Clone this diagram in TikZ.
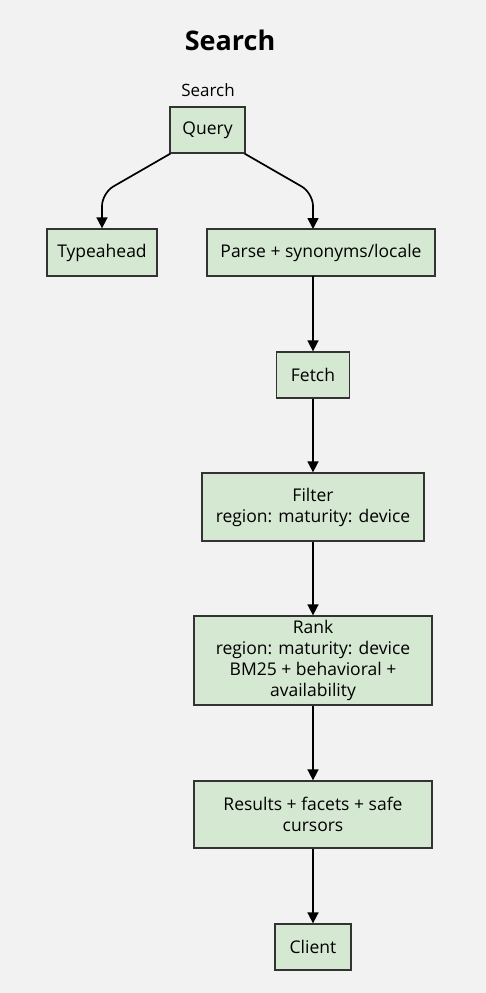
\documentclass[tikz,border=0pt]{standalone}
\usepackage{fontspec}
\setmainfont{Open Sans}
\usetikzlibrary{arrows.meta}
\definecolor{bg}{HTML}{F2F2F2}
\definecolor{boxfill}{HTML}{D5E8D2}
\definecolor{boxline}{HTML}{333333}
\begin{document}
\begin{tikzpicture}[x=1pt,y=-1pt,
  box/.style={draw=boxline, line width=1.3pt, fill=boxfill, align=center, inner sep=0pt, font=\fontsize{17.5}{21}\selectfont},
  conn/.style={draw=black, line width=1.7pt, -{Triangle[width=11pt,length=11pt]}}]
\fill[bg] (0,0) rectangle (486,993);
\useasboundingbox (0,0) rectangle (486,993);
\node[font=\bfseries\fontsize{27}{30}\selectfont] (title) at (230,40) {Search};
\node[font=\fontsize{17}{20}\selectfont] (lbl) at (208,90) {Search};
\node[box, minimum width=75pt, minimum height=46pt] (q) at (207.5,130) {Query};
\node[box, minimum width=110pt, minimum height=47pt] (ty) at (102,252.5) {Typeahead};
\node[box, minimum width=228pt, minimum height=47pt] (pa) at (321,252.5) {Parse + synonyms/locale};
\node[box, minimum width=73pt, minimum height=46pt] (fe) at (313,375) {Fetch};
\node[box, minimum width=222pt, minimum height=68pt] (fi) at (313,507) {Filter\\region: maturity: device};
\node[box, minimum width=238pt, minimum height=89pt] (ra) at (313,660.5) {Rank\\region: maturity: device\\BM25 + behavioral +\\availability};
\node[box, minimum width=238pt, minimum height=67pt] (re) at (313,814.5) {Results + facets + safe\\cursors};
\node[box, minimum width=76pt, minimum height=46pt] (cl) at (313,947) {Client};
\coordinate (pain) at (313,229);
\coordinate (paout) at (313,276);
\draw[conn, rounded corners=13pt] ([xshift=1pt]q.south west) -- (102,193) -- (ty.north);
\draw[conn, rounded corners=13pt] ([xshift=-1pt]q.south east) -- (313,193) -- (pain);
\draw[conn] (paout) -- (fe.north);
\draw[conn] (fe.south) -- (fi.north);
\draw[conn] (fi.south) -- (ra.north);
\draw[conn] (ra.south) -- (re.north);
\draw[conn] (re.south) -- (cl.north);
\end{tikzpicture}
\end{document}
